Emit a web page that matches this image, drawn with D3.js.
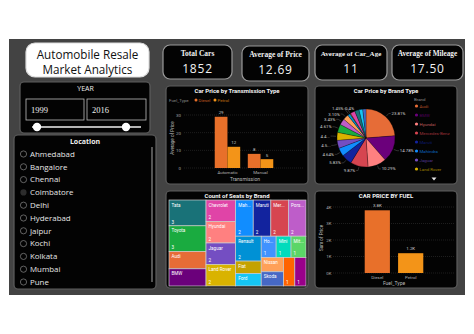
<!DOCTYPE html>
<html>
<head>
<meta charset="utf-8">
<script src="https://cdn.jsdelivr.net/npm/d3@7"></script>
<style>
  body { margin: 0; background: #ffffff; }
  svg { display: block; }
</style>
</head>
<body>
<svg id="dash" width="474" height="334"></svg>
<script>
// ---- data ----
const kpiTitles = ["Total Cars", "Average of Price", "Average of Car_Age", "Average of Mileage"];
const kpiValues = ["1852", "12.69", "11", "17.50"];

const yearRange = [1999, 2016];
const locations = ["Ahmedabad", "Bangalore", "Chennai", "Coimbatore", "Delhi", "Hyderabad",
                   "Jaipur", "Kochi", "Kolkata", "Mumbai", "Pune"];
const hoveredLocation = "Coimbatore";

const transmissions = ["Automatic", "Manual"];
const fuelTypes = ["Diesel", "Petrol"];
const avgPriceDiesel = [29, 8];
const avgPricePetrol = [12, 5];
const transTicks = [0, 10, 20, 30];

const pieBrands = ["Audi", "BMW", "Hyundai", "Mercedes-Benz", "Maruti", "Mahindra", "Jaguar",
                   "Land Rover", "Toyota", "Porsche", "Nissan", "Renault", "Fiat",
                   "Chevrolet", "Tata", "Ford", "Skoda"];
const piePercent = [23.81, 14.78, 10.29, 9.87, 5.83, 4.64, 4.5, 4.4, 4.61, 3.43, 3.10, 1.45, 0.4,
                    2.6, 2.4, 2.1, 1.79];
const pieLabels = ["23.81%", "14.78%", "10.29%", "9.87%", "5.83%", "4.64%", "4.5...", "4.4...",
                   "4.61%", "3.43%", "3.10%", "1.45%", "0.4%", "", "", "", ""];
const legendBrands = ["Audi", "BMW", "Hyundai", "Mercedes-Benz", "Maruti", "Mahindra", "Jaguar", "Land Rover"];

const seatBrands = ["Tata", "Toyota", "Audi", "BMW", "Chevrolet", "Hyundai", "Jaguar", "Land Rover",
                    "Mahindra", "Maruti", "Mercedes-Benz", "Porsche", "Renault", "Fiat", "Ford",
                    "Honda", "Mini", "Mitsubishi", "Nissan", "Skoda", "Volkswagen", "Volvo"];
const seatCounts = [3, 3, 2, 2, 2, 2, 2, 2, 2, 2, 2, 2, 2, 1, 1, 1, 1, 1, 1, 1, 1, 1];

const fuelPrice = [3800, 1200];
const fuelTicks = [0, 1000, 2000, 3000, 4000];

// ---- palette ----
const brandColor = {
  "Audi": "#E66C37", "BMW": "#6B007B", "Hyundai": "#FF8080", "Mercedes-Benz": "#D64550",
  "Maruti": "#12239E", "Mahindra": "#118DFF", "Jaguar": "#744EC2", "Land Rover": "#D9B300",
  "Toyota": "#1AAB40", "Porsche": "#BE5DC9", "Nissan": "#FFA058", "Renault": "#0091D5",
  "Fiat": "#C4A200", "Chevrolet": "#E044A7", "Tata": "#197278", "Ford": "#15C6F4",
  "Skoda": "#4668C5", "Honda": "#4092FF", "Mini": "#00DBBC", "Mitsubishi": "#5BD667",
  "Volkswagen": "#FF6300", "Volvo": "#99008A"
};
const fuelColor = { "Diesel": "#E8702A", "Petrol": "#F39418" };

const SANS = "'Open Sans', 'Noto Sans', sans-serif";
const NARROW = "Roboto, 'Liberation Sans', sans-serif";
const SERIF = "'Liberation Serif', 'DejaVu Serif', serif";

const svg = d3.select("#dash");

// ---- dashboard canvas ----
svg.append("rect").attr("x", 9).attr("y", 39).attr("width", 456).attr("height", 256)
  .attr("fill", "#434343");

function panel(x, y, w, h, opts = {}) {
  return svg.append("rect").attr("x", x).attr("y", y).attr("width", w).attr("height", h)
    .attr("rx", opts.rx ?? 4)
    .attr("fill", opts.fill ?? "#030303")
    .attr("stroke", opts.stroke ?? "#5e5e5e")
    .attr("stroke-width", opts.sw ?? 1.2);
}

// ---- title box ----
panel(26, 43, 123, 34, { fill: "#ffffff", stroke: "#dddddd", rx: 9 });
svg.append("text").attr("x", 87.5).attr("y", 58.5).attr("text-anchor", "middle")
  .attr("font-family", SANS).attr("font-weight", 500).attr("font-size", 11.7).attr("fill", "#111")
  .text("Automobile Resale");
svg.append("text").attr("x", 87.5).attr("y", 73.5).attr("text-anchor", "middle")
  .attr("font-family", SANS).attr("font-weight", 500).attr("font-size", 11.7).attr("fill", "#111")
  .text("Market Analytics");

// ---- KPI cards ----
const kpiBoxes = [[163, 45, 69, 34], [242, 46, 67, 35], [315, 45, 72, 35], [392, 45, 71, 35]];
kpiBoxes.forEach(([x, y, w, h], i) => {
  panel(x, y, w, h, { rx: 7, stroke: "#9a9a9a", sw: 1.2 });
  const t = svg.append("text").attr("x", x + w / 2).attr("y", y + 10.5).attr("text-anchor", "middle")
    .attr("font-family", SERIF).attr("font-weight", "bold").attr("font-size", 7.5)
    .attr("fill", "#f2f2f2").text(kpiTitles[i]);
  let fs = 7.5;
  while (t.node().getComputedTextLength() > w - 11 && fs > 5) {
    fs -= 0.25; t.attr("font-size", fs);
  }
  svg.append("text").attr("x", x + w / 2).attr("y", y + 27.5).attr("text-anchor", "middle")
    .attr("font-family", SANS).attr("font-size", 12).attr("letter-spacing", 0.8)
    .attr("fill", "#f2f2f2").text(kpiValues[i]);
});

// ---- YEAR slicer ----
panel(20, 82, 130, 51);
svg.append("text").attr("x", 85.5).attr("y", 91).attr("text-anchor", "middle")
  .attr("font-family", SANS).attr("font-size", 7).attr("fill", "#eee").text("YEAR");
[[26, 99, 58, 21], [87, 99, 59, 21]].forEach(([x, y, w, h], i) => {
  svg.append("rect").attr("x", x).attr("y", y).attr("width", w).attr("height", h)
    .attr("fill", "none").attr("stroke", "#bdbdbd").attr("stroke-width", 0.8);
  svg.append("text").attr("x", x + 5).attr("y", y + 13.5)
    .attr("font-family", SERIF).attr("font-size", 8.5).attr("fill", "#eee").text(yearRange[i]);
});
const yearScale = d3.scaleLinear().domain(yearRange).range([37, 126]);
svg.append("line").attr("x1", 32).attr("x2", 141).attr("y1", 127).attr("y2", 127)
  .attr("stroke", "#f0f0f0").attr("stroke-width", 1.4);
svg.selectAll(".handle").data(yearRange).join("circle")
  .attr("cx", d => yearScale(d)).attr("cy", 127).attr("r", 4.2).attr("fill", "#ffffff");

// ---- Location slicer ----
panel(14, 135, 142, 154);
svg.append("text").attr("x", 85).attr("y", 143.5).attr("text-anchor", "middle")
  .attr("font-family", SANS).attr("font-weight", "bold").attr("font-size", 7)
  .attr("fill", "#eee").text("Location");
const locY = d3.scalePoint().domain(locations).range([154, 282]);
const locG = svg.append("g");
locG.selectAll("circle").data(locations).join("circle")
  .attr("cx", 23.5).attr("cy", d => locY(d)).attr("r", 3.1)
  .attr("fill", d => d === hoveredLocation ? "#2c2c2c" : "none")
  .attr("stroke", d => d === hoveredLocation ? "none" : "#8a8a8a").attr("stroke-width", 0.7);
locG.selectAll("text").data(locations).join("text")
  .attr("x", 30).attr("y", d => locY(d) + 2.8)
  .attr("font-family", SANS).attr("font-size", 7.9).attr("fill", "#e6e6e6").text(d => d);
svg.append("line").attr("x1", 152).attr("x2", 152).attr("y1", 147).attr("y2", 282)
  .attr("stroke", "#8c8c8c").attr("stroke-width", 1.2);

// ---- chart helpers ----
function chartTitle(x, y, text) {
  svg.append("text").attr("x", x).attr("y", y).attr("text-anchor", "middle")
    .attr("font-family", NARROW).attr("font-weight", "bold").attr("font-size", 6)
    .attr("fill", "#f4f4f4").text(text);
}
function smallText(g, x, y, text, anchor, color, size) {
  return g.append("text").attr("x", x).attr("y", y).attr("text-anchor", anchor || "middle")
    .attr("font-family", NARROW).attr("font-size", size || 4.4)
    .attr("fill", color || "#a8a8a8").text(text);
}

// ---- Car Price by Transmission Type ----
panel(166, 86, 142, 98);
chartTitle(237, 92.5, "Car Price by Transmission Type");
const tG = svg.append("g");
smallText(tG, 169, 101.5, "Fuel_Type", "start", "#8a8a8a");
const legendX = d3.scaleOrdinal().domain(fuelTypes).range([196, 215]);
fuelTypes.forEach(f => {
  tG.append("circle").attr("cx", legendX(f)).attr("cy", 100).attr("r", 1.5).attr("fill", fuelColor[f]);
  smallText(tG, legendX(f) + 2.5, 101.5, f, "start", fuelColor[f]).attr("opacity", 0.75);
});
const tx0 = d3.scaleBand().domain(transmissions).range([183, 305]).paddingInner(0.23).paddingOuter(0.96);
const tx1 = d3.scaleBand().domain(fuelTypes).range([0, tx0.bandwidth()]);
const ty = d3.scaleLinear().domain([0, 30]).range([168, 115]);
tG.selectAll(".grid").data(transTicks).join("line")
  .attr("x1", 184).attr("x2", 304).attr("y1", d => ty(d)).attr("y2", d => ty(d))
  .attr("stroke", "#3a3a3a").attr("stroke-width", 0.5).attr("stroke-dasharray", "1,1");
const tAxis = tG.append("g").attr("transform", "translate(182,0)")
  .call(d3.axisLeft(ty).tickValues(transTicks).tickSize(0).tickPadding(1));
tAxis.select(".domain").remove();
tAxis.selectAll("text").attr("font-family", NARROW).attr("font-size", 4.4).attr("fill", "#a8a8a8");
const transRows = transmissions.map((t, i) => ({ t, vals: [avgPriceDiesel[i], avgPricePetrol[i]] }));
transRows.forEach(row => {
  fuelTypes.forEach((f, j) => {
    const v = row.vals[j];
    const x = tx0(row.t) + tx1(f);
    tG.append("rect").attr("x", x).attr("y", ty(v)).attr("width", tx1.bandwidth())
      .attr("height", ty(0) - ty(v)).attr("fill", fuelColor[f]);
    smallText(tG, x + tx1.bandwidth() / 2, ty(v) - 2.5, String(v), "middle", "#c8c8c8");
  });
});
const txAxis = tG.append("g").attr("transform", "translate(0,169)")
  .call(d3.axisBottom(tx0).tickSize(0).tickPadding(2));
txAxis.select(".domain").remove();
txAxis.selectAll("text").attr("font-family", NARROW).attr("font-size", 4.4).attr("fill", "#b0b0b0");
smallText(tG, 245, 180.5, "Transmission", "middle", "#b8b8b8", 5);
smallText(tG, 0, 0, "Average of Price", "middle", "#b8b8b8", 4.6)
  .attr("transform", "translate(173.5,138) rotate(-90)");

// ---- Car Price by Brand Type (pie) ----
panel(315, 86, 142, 98);
chartTitle(386, 92.5, "Car Price by Brand Type");
const pG = svg.append("g").attr("transform", "translate(366,138)");
const R = 29;
const pieData = d3.pie().sort(null).value(d => d.v)(
  pieBrands.map((b, i) => ({ b, v: piePercent[i], label: pieLabels[i] })));
const arc = d3.arc().innerRadius(0).outerRadius(R);
pG.selectAll("path").data(pieData).join("path")
  .attr("d", arc).attr("fill", d => brandColor[d.data.b])
  .attr("stroke", "#030303").attr("stroke-width", 0.25);

// label placement with leader lines; left-side labels are stacked so they never collide
const pieLabelPos = pieData.filter(d => d.data.label).map(d => {
  const a = (d.startAngle + d.endAngle) / 2;
  const s = Math.sin(a), c = -Math.cos(a);
  const right = s >= 0;
  const p2 = [s * (R + 4.5), c * (R + 4.5)];
  return { d, s, c, right, p2, x: p2[0] + (right ? 2.8 : -2.8), y: p2[1] + 1.5 };
});
const leftLabels = pieLabelPos.filter(l => !l.right).sort((a, b) => b.y - a.y);
let prev = null;
leftLabels.forEach(l => {
  if (prev && l.y > prev.y - 5.2) {
    const pushed = prev.y - 5.2;
    if (pushed < -R - 1.5) {
      // no room above: sit beside the previous label on the same line
      l.y = prev.y - 0.5; l.x = prev.x + 1.5; l.right = true;
    } else {
      l.y = pushed;
    }
  }
  prev = l;
});
pieLabelPos.forEach(l => {
  const p1 = [l.s * (R + 1), l.c * (R + 1)];
  const p3 = [l.x + (l.right ? -0.8 : 0.8), l.y - 1.5];
  pG.append("polyline").attr("points", [p1, l.p2, p3].map(p => p.join(",")).join(" "))
    .attr("fill", "none").attr("stroke", "#777").attr("stroke-width", 0.4);
  smallText(pG, l.x, l.y, l.d.data.label, l.right ? "start" : "end", "#d0d0d0", 4.3);
});

const lg = svg.append("g");
smallText(lg, 414, 100.5, "Brand", "start", "#8a8a8a", 4.4);
const legY = d3.scalePoint().domain(legendBrands).range([106, 169]);
legendBrands.forEach(b => {
  lg.append("circle").attr("cx", 416.5).attr("cy", legY(b)).attr("r", 1.6).attr("fill", brandColor[b]);
  smallText(lg, 419.5, legY(b) + 1.5, b, "start", brandColor[b], 4.4).attr("opacity", 0.7);
});
svg.append("path").attr("d", "M431.5,177.5 L436.5,177.5 L434,180.5 Z").attr("fill", "#e8e8e8");

// ---- Count of Seats by Brand (treemap) ----
panel(166, 191, 142, 97);
chartTitle(237, 197.5, "Count of Seats by Brand");
const root = d3.hierarchy({ children: seatBrands.map((b, i) => ({ name: b, value: seatCounts[i] })) })
  .sum(d => d.value || 0)
  .sort((a, b) => b.value - a.value);
d3.treemap().size([137, 86]).tile(d3.treemapSquarify)(root);
const mG = svg.append("g").attr("transform", "translate(169,200)");
const cells = mG.selectAll("g").data(root.leaves()).join("g")
  .attr("transform", d => `translate(${d.x0},${d.y0})`);
cells.append("rect")
  .attr("width", d => d.x1 - d.x0).attr("height", d => d.y1 - d.y0)
  .attr("fill", d => brandColor[d.data.name])
  .attr("stroke", "#cfcfcf").attr("stroke-width", 0.7);
cells.each(function (d) {
  const g = d3.select(this);
  const w = d.x1 - d.x0, h = d.y1 - d.y0;
  if (w >= 13) {
    const t = smallText(g, 2.5, 6.5, d.data.name, "start", "#ffffff", 4.6);
    let name = d.data.name;
    while (t.node().getComputedTextLength() > w - 4 && name.length > 1) {
      name = name.slice(0, -1);
      t.text(name + "...");
    }
  }
  if (h >= 18) smallText(g, 2.5, h - 2.2, String(d.value), "start", "#ffffff", 4.6);
});

// ---- CAR PRICE BY FUEL ----
panel(315, 191, 142, 97);
chartTitle(386, 197.5, "CAR PRICE BY FUEL");
const fG = svg.append("g");
const fx = d3.scaleBand().domain(fuelTypes).range([333, 455]).paddingInner(0.245).paddingOuter(0.95);
const fy = d3.scaleLinear().domain([0, 4000]).range([273, 207]);
const kfmt = v => d3.format(".2s")(v).replace("k", "K");
fG.selectAll(".grid").data(fuelTicks).join("line")
  .attr("x1", 333).attr("x2", 455).attr("y1", d => fy(d)).attr("y2", d => fy(d))
  .attr("stroke", "#3a3a3a").attr("stroke-width", 0.5).attr("stroke-dasharray", "1,1");
const fAxis = fG.append("g").attr("transform", "translate(331.5,0)")
  .call(d3.axisLeft(fy).tickValues(fuelTicks).tickSize(0).tickPadding(0)
    .tickFormat(v => (v / 1000) + "K"));
fAxis.select(".domain").remove();
fAxis.selectAll("text").attr("font-family", NARROW).attr("font-size", 4.4).attr("fill", "#a8a8a8");
fuelTypes.forEach((f, i) => {
  fG.append("rect").attr("x", fx(f)).attr("y", fy(fuelPrice[i])).attr("width", fx.bandwidth())
    .attr("height", fy(0) - fy(fuelPrice[i])).attr("fill", fuelColor[f]);
  smallText(fG, fx(f) + fx.bandwidth() / 2, fy(fuelPrice[i]) - 3, kfmt(fuelPrice[i]), "middle", "#c8c8c8");
});
const fxAxis = fG.append("g").attr("transform", "translate(0,274)")
  .call(d3.axisBottom(fx).tickSize(0).tickPadding(2));
fxAxis.select(".domain").remove();
fxAxis.selectAll("text").attr("font-family", NARROW).attr("font-size", 4.4).attr("fill", "#b0b0b0");
smallText(fG, 394, 285, "Fuel_Type", "middle", "#b8b8b8", 5);
smallText(fG, 0, 0, "Sum of Price", "middle", "#b8b8b8", 4.6)
  .attr("transform", "translate(322.5,238) rotate(-90)");
</script>
</body>
</html>
